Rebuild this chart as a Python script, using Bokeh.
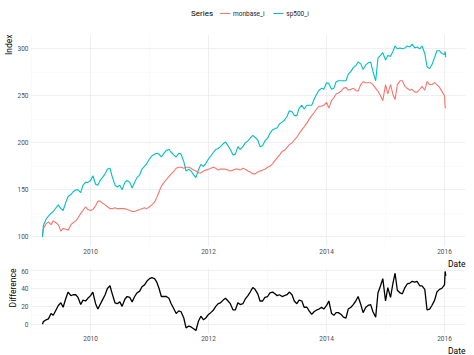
import pandas as pd
from bokeh.plotting import figure
from bokeh.models import Range1d, FixedTicker, DatetimeTickFormatter, Title, ColumnDataSource
from bokeh.layouts import column
from bokeh.embed import file_html
from bokeh.resources import INLINE
from bokeh.core.properties import value

# ---------------- data ----------------
first_date = ["2009-03-09"]
grid_start, grid_end = "2009-03-15", "2015-12-15"   # semi-monthly (1st / 15th)
last_dates = ["2016-01-01", "2016-01-05", "2016-01-09"]

sp500_2009 = [100, 112, 119, 122, 125, 127, 131, 134, 130, 128, 137, 143, 145, 148, 150, 150, 147, 155, 158, 158]
sp500_2010 = [160, 165, 156, 155, 160, 163, 167, 172, 173, 164, 155, 153, 155, 150, 158, 160, 158, 152, 158, 163, 166, 172, 175, 178]
sp500_2011 = [183, 186, 188, 189, 188, 185, 189, 192, 193, 190, 187, 185, 189, 188, 180, 170, 172, 170, 166, 163, 172, 177, 175, 178]
sp500_2012 = [183, 186, 190, 193, 194, 196, 199, 201, 197, 193, 187, 188, 196, 193, 196, 200, 202, 205, 208, 206, 203, 196, 197, 202]
sp500_2013 = [205, 210, 214, 215, 216, 220, 222, 224, 228, 234, 233, 229, 229, 237, 240, 236, 240, 240, 240, 246, 252, 256, 258, 257]
sp500_2014 = [264, 263, 257, 258, 265, 266, 266, 266, 266, 273, 276, 280, 282, 286, 284, 278, 283, 285, 286, 276, 266, 290, 293, 296]
sp500_2015 = [288, 293, 292, 297, 303, 300, 301, 300, 301, 303, 302, 305, 301, 302, 300, 303, 295, 281, 279, 283, 291, 298, 298, 295]
sp500_2016 = [294, 297, 291]

monbase_2009 = [100, 109, 114, 116, 113, 117, 115, 113, 106, 109, 108, 107, 113, 115, 117, 120, 125, 128, 132, 129]
monbase_2010 = [128, 129, 133, 138, 138, 136, 134, 132, 130, 130, 131, 130, 130, 130, 130, 129, 128, 127, 127, 128, 129, 130, 131, 130]
monbase_2011 = [132, 134, 137, 142, 148, 154, 158, 161, 164, 167, 170, 173, 174, 174, 173, 174, 174, 173, 171, 170, 168, 168, 170, 171]
monbase_2012 = [172, 173, 174, 173, 171, 172, 172, 172, 171, 170, 171, 172, 172, 171, 173, 172, 170, 169, 167, 167, 169, 170, 171, 172]
monbase_2013 = [174, 175, 178, 181, 184, 187, 191, 192, 195, 198, 200, 203, 206, 210, 214, 217, 221, 225, 229, 232, 236, 239, 239, 240]
monbase_2014 = [243, 237, 245, 248, 252, 253, 255, 258, 259, 256, 257, 258, 256, 255, 262, 265, 264, 264, 264, 262, 258, 255, 250, 245]
monbase_2015 = [262, 252, 262, 252, 246, 262, 266, 266, 260, 258, 256, 257, 254, 254, 257, 260, 256, 265, 262, 262, 264, 262, 259, 255]
monbase_2016 = [250, 238, 237]

series_names = ["monbase_i", "sp500_i"]
series_colors = ["#F8766D", "#00BFC4"]

x_major_years = ["2010", "2012", "2014", "2016"]
x_minor_years = ["2009", "2011", "2013", "2015"]
y_top_major = [100, 150, 200, 250, 300]
y_top_minor = [125, 175, 225, 275]
y_bot_major = [0, 20, 40, 60]
y_bot_minor = [-10, 10, 30, 50]

# ---------------- assemble ----------------
dates = (pd.to_datetime(first_date).tolist()
         + pd.date_range(grid_start, grid_end, freq="SMS").tolist()
         + pd.to_datetime(last_dates).tolist())
sp500_i = sp500_2009 + sp500_2010 + sp500_2011 + sp500_2012 + sp500_2013 + sp500_2014 + sp500_2015 + sp500_2016
monbase_i = monbase_2009 + monbase_2010 + monbase_2011 + monbase_2012 + monbase_2013 + monbase_2014 + monbase_2015 + monbase_2016
difference = [s - m for s, m in zip(sp500_i, monbase_i)]

src = ColumnDataSource(dict(date=dates, monbase_i=monbase_i, sp500_i=sp500_i, diff=difference))

def ms(s):
    return pd.Timestamp(s).value / 1e6

FONT = "Roboto"
GRID = "#EBEBEB"
GRID_MINOR = "#F4F4F4"
W = 466

def pad(lo, hi, f=0.05):
    d = (hi - lo) * f
    return lo - d, hi + d

xr = Range1d(start=pd.Timestamp("2008-12-25"), end=pd.Timestamp("2016-05-10"))
xticker = FixedTicker(ticks=[ms(y) for y in x_major_years], minor_ticks=[ms(y) for y in x_minor_years])

def style(p, yt_major, yt_minor):
    p.outline_line_color = None
    p.background_fill_color = "white"
    p.border_fill_color = "white"
    p.xaxis.ticker = xticker
    p.xaxis.formatter = DatetimeTickFormatter(years="%Y", months="%Y", days="%Y", hours="%Y")
    p.yaxis.ticker = FixedTicker(ticks=yt_major, minor_ticks=yt_minor)
    for ax in p.axis:
        ax.axis_line_color = None
        ax.major_tick_line_color = None
        ax.minor_tick_line_color = None
        ax.major_tick_out = 0
        ax.major_tick_in = 0
        ax.minor_tick_out = 0
        ax.minor_tick_in = 0
        ax.major_label_text_font = FONT
        ax.major_label_text_font_size = "6.5px"
        ax.major_label_text_color = "#4D4D4D"
        ax.major_label_standoff = 2
    for g in (p.xgrid, p.ygrid):
        g.grid_line_color = GRID
        g.grid_line_width = 0.8
        g.minor_grid_line_color = GRID_MINOR
        g.minor_grid_line_width = 0.5

def add_titles(p, ylab):
    p.add_layout(Title(text="Date", align="right", text_font=FONT, text_font_size="8.5px",
                       text_font_style="normal", text_color="black", standoff=0, offset=0), "below")
    p.add_layout(Title(text=ylab, align="right", text_font=FONT, text_font_size="8.5px",
                       text_font_style="normal", text_color="black", standoff=2, offset=0), "left")

# ---------------- legend strip ----------------
LEG_H = 28
pl = figure(width=W, height=LEG_H, x_range=Range1d(0, W), y_range=Range1d(0, LEG_H),
            output_backend="svg", toolbar_location=None, min_border=0,
            x_axis_location=None, y_axis_location=None)
pl.grid.visible = False
pl.outline_line_color = None
pl.border_fill_color = "white"
leg_y = LEG_H - 13
pl.text(x=[172], y=[leg_y], text=["Series"], text_font=value(FONT), text_font_size="8px",
        text_baseline="middle", text_align="left", text_color="black")
key_x0 = [203, 260]
key_len = 11
for kx, name, col in zip(key_x0, series_names, series_colors):
    pl.rect(x=[kx + key_len / 2], y=[leg_y], width=key_len, height=1.2,
            fill_color=col, line_color=None)
for kx, name in zip(key_x0, series_names):
    pl.text(x=[kx + key_len + 3], y=[leg_y], text=[name], text_font=value(FONT),
            text_font_size="6.5px", text_baseline="middle", text_align="left", text_color="#1A1A1A")

# ---------------- top panel ----------------
lo1, hi1 = pad(min(min(sp500_i), min(monbase_i)), max(max(sp500_i), max(monbase_i)))
p1 = figure(width=W, height=240, x_axis_type="datetime", x_range=xr, y_range=Range1d(lo1, hi1),
            output_backend="svg", toolbar_location=None,
            min_border_left=24, min_border_right=1, min_border_top=6, min_border_bottom=0)
style(p1, y_top_major, y_top_minor)
for name, col in zip(series_names, series_colors):
    p1.line(x="date", y=name, source=src, line_color=col, line_width=1.1)
add_titles(p1, "Index")

# ---------------- bottom panel ----------------
lo2, hi2 = pad(min(difference), max(difference))
p2 = figure(width=W, height=87, x_axis_type="datetime", x_range=xr, y_range=Range1d(lo2, hi2),
            output_backend="svg", toolbar_location=None,
            min_border_left=24, min_border_right=1, min_border_top=0, min_border_bottom=0)
style(p2, y_bot_major, y_bot_minor)
p2.line(x="date", y="diff", source=src, line_color="black", line_width=1.3)
add_titles(p2, "Difference")

layout = column(pl, p1, p2, spacing=0)
open("out.html", "w").write(file_html(layout, INLINE))
